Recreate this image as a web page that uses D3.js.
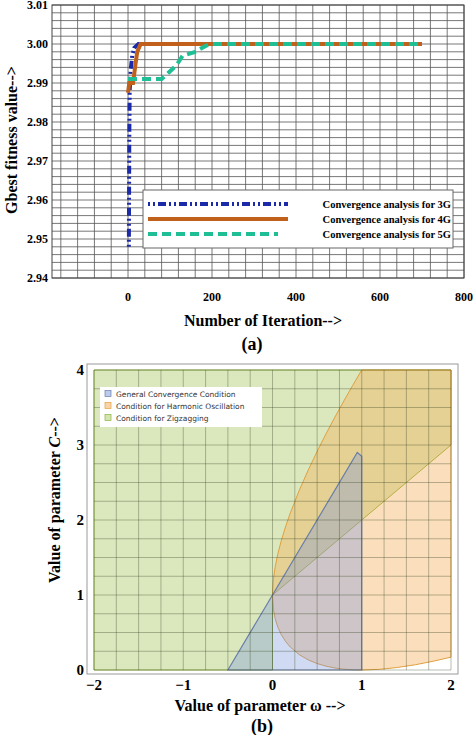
<!DOCTYPE html>
<html><head><meta charset="utf-8">
<script src="https://cdn.jsdelivr.net/npm/d3@7"></script>
<style>body{margin:0;background:#fff}svg{display:block}.sf{font-family:"Liberation Serif","DejaVu Serif",serif;font-weight:bold}</style>
</head><body>
<svg id="c" width="474" height="735"></svg>
<script>
// panel (a) data
var xTicksA = [0, 200, 400, 600, 800]
var yTicksA = [2.94, 2.95, 2.96, 2.97, 2.98, 2.99, 3.00, 3.01]
var s3G = [[2,2.948],[3,2.975],[4,2.988],[6,2.993],[10,2.997],[15,2.999],[25,3.0],[700,3.0]]
var s4G = [[0,2.9875],[3,2.99],[12,2.99],[18,2.995],[22,2.998],[30,3.0],[700,3.0]]
var s5G = [[0,2.991],[80,2.991],[95,2.9925],[115,2.9945],[130,2.997],[160,2.998],[185,2.9995],[200,3.0],[700,3.0]]
var legendA = ['Convergence analysis for 3G','Convergence analysis for 4G','Convergence analysis for 5G']
// panel (b) data
var xTicksB = [-2, -1, 0, 1, 2]
var yTicksB = [0, 1, 2, 3, 4]
var convPoly = [[-0.5,0],[0.95,2.9],[1,2.85],[1,0]]
var zigPoly = [[-2,0],[0,0],[0,1],[2,3],[2,4],[-2,4]]
var harmW = [0,0.01,0.03,0.06,0.1,0.15,0.2,0.3,0.4,0.5,0.6,0.7,0.8,0.9,1,1.2,1.4,1.6,1.8,2]
var legendB = ['General Convergence Condition','Condition for Harmonic Oscillation','Condition for Zigzagging']

var svg = d3.select('#c')

// ---------- panel (a)
var xa = d3.scaleLinear().domain([-181, 800]).range([52, 464])
var ya = d3.scaleLinear().domain([2.94, 3.01]).range([278, 5])
var ga = svg.append('g')
d3.range(-160, 801, 40).forEach(function(v) {
  ga.append('line').attr('x1', xa(v)).attr('x2', xa(v)).attr('y1', ya(2.94)).attr('y2', ya(3.01)).attr('stroke', '#555').attr('stroke-width', 0.8)
})
d3.range(0, 36).forEach(function(i) {
  var v = 2.94 + i * 0.002
  ga.append('line').attr('x1', xa(-181)).attr('x2', xa(800)).attr('y1', ya(v)).attr('y2', ya(v)).attr('stroke', '#555').attr('stroke-width', 0.8)
})
ga.append('rect').attr('x', xa(-181)).attr('y', ya(3.01)).attr('width', xa(800) - xa(-181)).attr('height', ya(2.94) - ya(3.01)).attr('fill', 'none').attr('stroke', '#444')
ga.selectAll('.yt').data(yTicksA).enter().append('text').attr('class', 'sf').attr('x', 48).attr('y', function(d) { return ya(d) + 4 })
  .attr('text-anchor', 'end').attr('font-size', 12).text(function(d) { return d.toFixed(2) })
ga.selectAll('.xt').data(xTicksA).enter().append('text').attr('class', 'sf').attr('x', function(d) { return xa(d) }).attr('y', 301)
  .attr('text-anchor', 'middle').attr('font-size', 12).text(function(d) { return d })
ga.append('text').attr('class', 'sf').attr('transform', 'translate(17,140) rotate(-90)').attr('text-anchor', 'middle')
  .attr('font-size', 16).text('Gbest fitness value-->')
ga.append('text').attr('class', 'sf').attr('x', 263).attr('y', 326).attr('text-anchor', 'middle')
  .attr('font-size', 16).text('Number of Iteration-->')
ga.append('text').attr('class', 'sf').attr('x', 252).attr('y', 350).attr('text-anchor', 'middle')
  .attr('font-size', 18).text('(a)')

var lineA = d3.line().x(function(d) { return xa(d[0]) }).y(function(d) { return ya(d[1]) })
var styles = [
  {c: '#1b2aa8', dash: '2,3,2,3,8,3', w: 4},
  {c: '#c0601a', dash: null, w: 4},
  {c: '#1fbf95', dash: '9,5', w: 4}
]
;[s3G, s4G, s5G].forEach(function(s, i) {
  ga.append('path').datum(s).attr('d', lineA).attr('fill', 'none').attr('stroke', styles[i].c)
    .attr('stroke-width', styles[i].w).attr('stroke-dasharray', styles[i].dash)
})
ga.append('rect').attr('x', 143).attr('y', 190).attr('width', 310).attr('height', 58).attr('fill', '#fff').attr('stroke', '#666')
legendA.forEach(function(t, i) {
  var y = 204 + i * 15
  ga.append('line').attr('x1', 148).attr('x2', i == 2 ? 278 : 288).attr('y1', y).attr('y2', y).attr('stroke', styles[i].c)
    .attr('stroke-width', 4).attr('stroke-dasharray', styles[i].dash)
  ga.append('text').attr('class', 'sf').attr('x', 451).attr('y', y + 4).attr('text-anchor', 'end')
    .attr('font-size', 10.5).text(t)
})

// ---------- panel (b)
var xb = d3.scaleLinear().domain([-2, 2]).range([94, 451])
var yb = d3.scaleLinear().domain([0, 4]).range([670, 370])
var gb = svg.append('g')
gb.append('rect').attr('x', 87).attr('y', 364).attr('width', 371).attr('height', 310).attr('fill', '#fff').attr('stroke', '#999')
var lineB = d3.line().x(function(d) { return xb(d[0]) }).y(function(d) { return yb(d[1]) })
gb.append('path').attr('d', lineB(zigPoly) + 'Z').attr('fill', 'rgba(170,200,100,0.42)').attr('stroke', '#8fb040')
var upper = harmW.filter(function(w) { return w <= 1 }).map(function(w) { return [w, Math.min(4, Math.pow(1 + Math.sqrt(w), 2))] })
var lower = harmW.map(function(w) { return [w, Math.pow(1 - Math.sqrt(w), 2)] })
var harm = upper.concat([[2, 4]]).concat(lower.slice().reverse())
gb.append('path').attr('d', lineB(harm) + 'Z').attr('fill', 'rgba(245,170,80,0.38)').attr('stroke', '#e0a040')
gb.append('path').attr('d', lineB(convPoly) + 'Z').attr('fill', 'rgba(120,150,220,0.35)').attr('stroke', '#6a7fa8').attr('stroke-width', 1.2)
d3.range(-2, 2.01, 0.25).forEach(function(v) {
  gb.append('line').attr('x1', xb(v)).attr('x2', xb(v)).attr('y1', yb(0)).attr('y2', yb(4)).attr('stroke', 'rgba(60,70,40,0.45)').attr('stroke-width', 0.8)
})
d3.range(0, 4.01, 0.25).forEach(function(v) {
  gb.append('line').attr('x1', xb(-2)).attr('x2', xb(2)).attr('y1', yb(v)).attr('y2', yb(v)).attr('stroke', 'rgba(60,70,40,0.45)').attr('stroke-width', 0.8)
})
gb.selectAll('.xt').data(xTicksB).enter().append('text').attr('class', 'sf').attr('x', function(d) { return xb(d) }).attr('y', 690)
  .attr('text-anchor', 'middle').attr('font-size', 15).text(function(d) { return d < 0 ? '\u2212' + (-d) : d })
gb.selectAll('.yt').data(yTicksB).enter().append('text').attr('class', 'sf').attr('x', 84).attr('y', function(d) { return yb(d) + 5 })
  .attr('text-anchor', 'end').attr('font-size', 15).text(function(d) { return d })
gb.append('text').attr('class', 'sf').attr('transform', 'translate(60,500) rotate(-90)').attr('text-anchor', 'middle')
  .attr('font-size', 16).html('Value of parameter <tspan font-style="italic">C</tspan>-->')
gb.append('text').attr('class', 'sf').attr('x', 260).attr('y', 711).attr('text-anchor', 'middle')
  .attr('font-size', 16).text('Value of parameter \u03c9 -->')
gb.append('text').attr('class', 'sf').attr('x', 262).attr('y', 732).attr('text-anchor', 'middle')
  .attr('font-size', 18).text('(b)')
gb.append('rect').attr('x', 100).attr('y', 387).attr('width', 162).attr('height', 40).attr('fill', '#fff')
var lc = ['rgba(120,150,220,0.5)', 'rgba(245,170,80,0.5)', 'rgba(170,205,95,0.5)']
var ls = ['#6a7fa8', '#e0a040', '#8fb040']
legendB.forEach(function(t, i) {
  var y = 394 + i * 12
  gb.append('rect').attr('x', 105).attr('y', y - 3.5).attr('width', 6).attr('height', 6).attr('fill', lc[i]).attr('stroke', ls[i]).attr('stroke-width', 0.7)
  gb.append('text').attr('x', 116).attr('y', y + 3).attr('font-family', '"DejaVu Sans", sans-serif').attr('font-size', 7.5).attr('fill', '#333').text(t)
})
</script>
</body></html>
